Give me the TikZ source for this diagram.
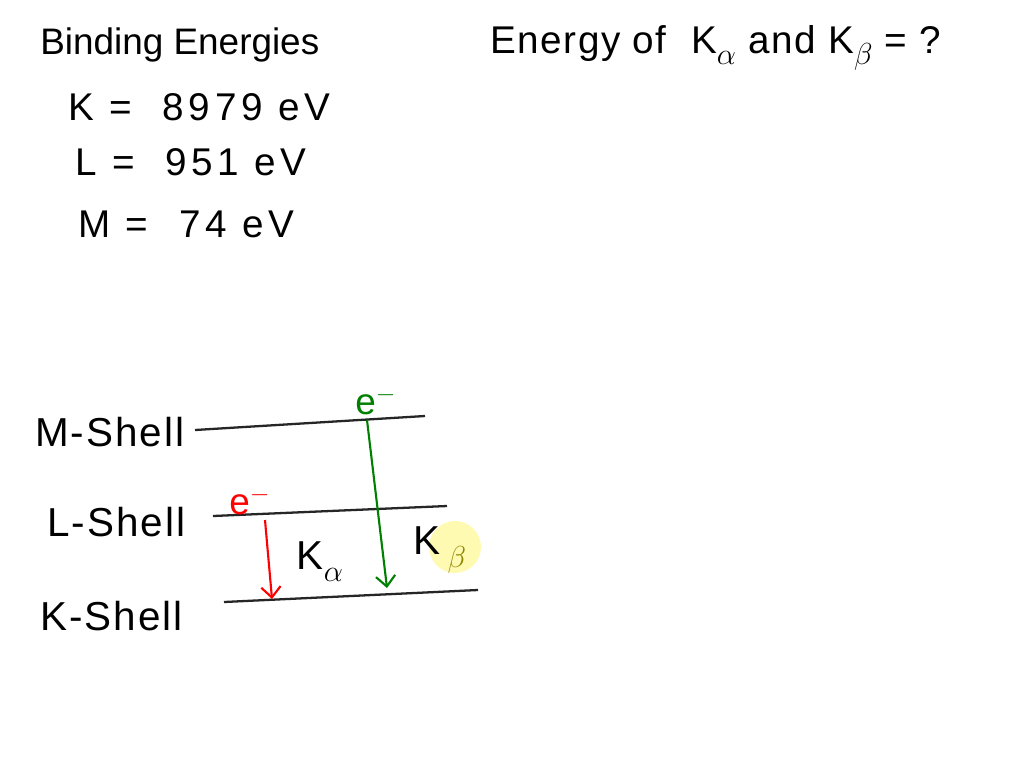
\documentclass[tikz,border=0pt]{standalone}
\usepackage{fontspec}
\setmainfont{Liberation Sans}
\usetikzlibrary{arrows.meta}
\newcommand{\lowsub}[1]{\raisebox{-0.3em}{\fontsize{17}{19}\selectfont$#1$}}
\begin{document}
\begin{tikzpicture}[x=0.02cm,y=-0.02cm,
  txt/.style={inner sep=0pt,anchor=west,font=\fontsize{21}{25}\selectfont},
  wide/.style={font=\fontsize{22}{26}\selectfont\addfontfeatures{LetterSpace=12}},
  shlab/.style={font=\fontsize{23}{27}\selectfont\addfontfeatures{LetterSpace=5}},
  shell/.style={line width=1.3pt,black!85},
  trans/.style={line width=1.2pt,-{Straight Barb[length=6pt,width=11pt]}}]
\useasboundingbox (0,0) rectangle (1024,768);
\fill[white] (0,0) rectangle (1024,768);
% highlight
\fill[yellow!60!white,opacity=0.5] (455,547) circle (26);
% top texts
\node[txt] (be) at (40,45) {Binding Energies};
\node[txt,wide] (ke) at (68,107) {K =\ \ 8979 eV};
\node[txt,wide] (le) at (75,162) {L =\ \ 951 eV};
\node[txt,wide] (me) at (78,224) {M =\ \ 74 eV};
\node[txt,font=\fontsize{22}{26}\selectfont\addfontfeatures{LetterSpace=4}] (q) at (490,48) {Energy of\ \ K\lowsub{\alpha} and K\lowsub{\beta} = ?};
% shell labels
\node[txt,shlab] (ms) at (35,432) {M-Shell};
\node[txt,shlab] (ls) at (47,522) {L-Shell};
\node[txt,shlab] (ks) at (40,616) {K-Shell};
% shell lines
\coordinate (m1) at (195,430); \coordinate (m2) at (425,416);
\coordinate (l1) at (213,516); \coordinate (l2) at (447,506);
\coordinate (k1) at (224,602); \coordinate (k2) at (478,590);
\draw[shell] (m1) -- (m2);
\draw[shell] (l1) -- (l2);
\draw[shell] (k1) -- (k2);
% electrons
\node[txt,anchor=center,text=green!50!black] (eg) at (376,401) {e$^-$};
\node[txt,anchor=center,text=red] (er) at (250,501) {e$^-$};
\coordinate (ga) at (367,420); \coordinate (gb) at (387,588);
\coordinate (ra) at (265,520); \coordinate (rb) at (272,599);
\draw[trans,green!50!black] (ga) -- (gb);
\draw[trans,red] (ra) -- (rb);
% transition labels
\node[txt,anchor=center,font=\fontsize{23}{27}\selectfont] (ka) at (320,562) {K\lowsub{\alpha}};
\node[txt,anchor=center,font=\fontsize{23}{27}\selectfont] (kb) at (440,550) {K\,\lowsub{\textcolor{olive}{\beta}}};
\end{tikzpicture}
\end{document}
